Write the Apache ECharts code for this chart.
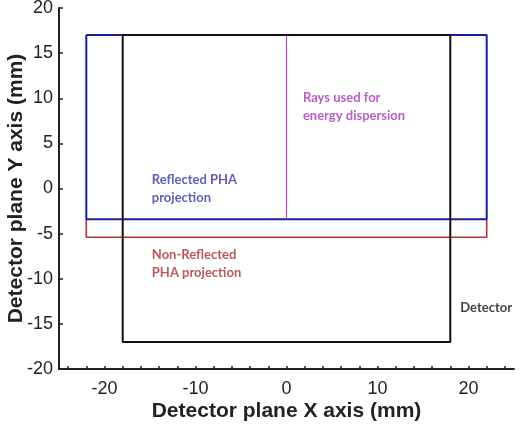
<!DOCTYPE html>
<html>
<head>
<meta charset="utf-8">
<script src="https://cdn.jsdelivr.net/npm/echarts@6/dist/echarts.min.js"></script>
<style>
  html, body { margin: 0; padding: 0; background: #fff; }
  #chart { width: 520px; height: 427px; }
</style>
</head>
<body>
<div id="chart"></div>
<script>
// outlines (mm)
var detectorX = [-18, 18, 18, -18, -18]
var detectorY = [17, 17, -17, -17, 17]
var reflectedX = [-22, 22, 22, -22, -22]
var reflectedY = [17, 17, -3.4, -3.4, 17]
var nonReflectedX = [-22, -22, 22, 22]
var nonReflectedY = [-3.4, -5.4, -5.4, -3.4]
var raysX = [0, 0]
var raysY = [-3.4, 17]

// tick labels
var xTickLabels = [-20, -10, 0, 10, 20]
var xTicks = [-24, -22, -20, -18, -16, -14, -12, -10, -8, -6, -4, -2, 0, 2, 4, 6, 8, 10, 12, 14, 16, 18, 20, 22, 24]
var yTickLabels = [-20, -15, -10, -5, 0, 5, 10, 15, 20]

// annotation texts and where they sit (mm)
var noteText = ['Rays used for\nenergy dispersion', 'Reflected PHA\nprojection', 'Non-Reflected\nPHA projection', 'Detector']
var noteX = [1.8, -14.8, -14.8, 19.1]
var noteY = [9.0, 0.0, -8.3, -13.2]

function pairs(xs, ys) {
    return xs.map(function (x, i) { return [x, ys[i]] })
}

var chart = echarts.init(document.getElementById('chart'))

var noteColors = ['#a436b6', '#3434a4', '#b02a36', '#111']

var option = {
    animation: false,
    grid: { left: 59, right: 6, top: 8, bottom: 58, outerBoundsMode: 'none' },
    xAxis: {
        type: 'value',
        min: -25, max: 25,
        name: 'Detector plane X axis (mm)',
        nameLocation: 'middle',
        nameGap: 32,
        nameMoveOverlap: false,
        nameTextStyle: { fontFamily: 'Liberation Sans', fontWeight: 'bold', fontSize: 21, color: '#222' },
        axisLine: { onZero: false, lineStyle: { color: '#222', width: 2 } },
        axisTick: { inside: true, length: 3, customValues: xTicks, lineStyle: { color: '#222', width: 1.5 } },
        axisLabel: { customValues: xTickLabels, fontFamily: 'Liberation Sans', fontSize: 18, color: '#222', margin: 11 },
        splitLine: { show: false }
    },
    yAxis: {
        type: 'value',
        min: -20, max: 20,
        name: 'Detector plane Y axis (mm)',
        nameLocation: 'middle',
        nameGap: 32,
        nameMoveOverlap: false,
        nameTextStyle: { fontFamily: 'Liberation Sans', fontWeight: 'bold', fontSize: 21, color: '#222' },
        axisLine: { onZero: false, lineStyle: { color: '#222', width: 2 } },
        axisTick: { inside: true, length: 4, customValues: yTickLabels, lineStyle: { color: '#222', width: 1.5 } },
        axisLabel: { customValues: yTickLabels, fontFamily: 'Liberation Sans', fontSize: 18, color: '#222', margin: 6 },
        splitLine: { show: false }
    },
    series: [
        {
            name: 'Non-Reflected PHA projection',
            type: 'line',
            data: pairs(nonReflectedX, nonReflectedY),
            showSymbol: false,
            lineStyle: { color: '#b3303c', width: 1.6 }
        },
        {
            name: 'Reflected PHA projection',
            type: 'line',
            data: pairs(reflectedX, reflectedY),
            showSymbol: false,
            lineStyle: { color: '#1c1ca0', width: 2 }
        },
        {
            name: 'Rays used for energy dispersion',
            type: 'line',
            data: pairs(raysX, raysY),
            showSymbol: false,
            lineStyle: { color: '#b447c4', width: 1.2 }
        },
        {
            name: 'Detector',
            type: 'line',
            data: pairs(detectorX, detectorY),
            showSymbol: false,
            lineStyle: { color: '#111', width: 2 }
        },
        {
            name: 'notes',
            type: 'scatter',
            symbolSize: 0,
            data: noteText.map(function (t, i) {
                return {
                    value: [noteX[i], noteY[i]],
                    label: {
                        show: true,
                        formatter: t,
                        position: 'right',
                        distance: 0,
                        color: noteColors[i],
                        fontFamily: 'Lato',
                        fontWeight: 'bold',
                        fontSize: 13,
                        lineHeight: 18
                    }
                }
            })
        }
    ]
}
chart.setOption(option)
</script>
</body>
</html>
